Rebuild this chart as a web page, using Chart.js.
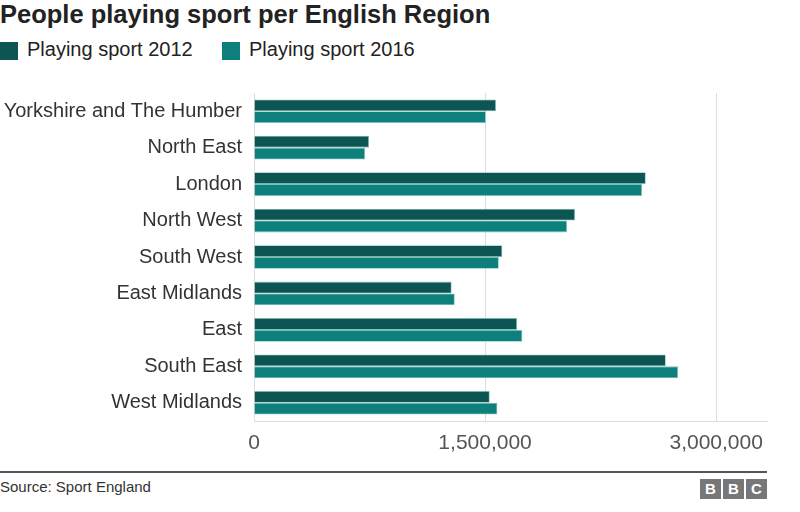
<!DOCTYPE html>
<html>
<head>
<meta charset="utf-8">
<script src="https://cdn.jsdelivr.net/npm/chart.js@4"></script>
<style>
  html, body { margin: 0; padding: 0; background: #fff; width: 800px; height: 512px; overflow: hidden; font-family: "Liberation Sans", Arial, sans-serif; }
  #title { position: absolute; left: 0; top: 0px; font-size: 25.5px; font-weight: bold; color: #222; white-space: nowrap; }
  #legend { position: absolute; left: 0; top: 38px; font-size: 20px; color: #222; white-space: nowrap; }
  .lg { position: absolute; top: 0; white-space: nowrap; }
  .sw { position: absolute; top: 4px; width: 18px; height: 18px; }
  #wrap { position: absolute; left: 0; top: 69px; width: 800px; height: 392px; }
  #rule { position: absolute; left: 0; top: 471px; width: 767px; height: 2px; background: #555; }
  #source { position: absolute; left: 0; top: 478px; font-size: 15px; color: #333; }
  #bbc { position: absolute; left: 700px; top: 479px; display: flex; gap: 2px; }
  #bbc span { display: block; width: 21px; height: 20px; background: #777; color: #fff; font-size: 15px; font-weight: bold; text-align: center; line-height: 20px; }
</style>
</head>
<body>
<div id="title">People playing sport per English Region</div>
<div id="legend">
  <div class="sw" style="left:0;background:#0d5552"></div>
  <div class="lg" style="left:27px">Playing sport 2012</div>
  <div class="sw" style="left:222px;background:#0e807c"></div>
  <div class="lg" style="left:249px">Playing sport 2016</div>
</div>
<div id="wrap"><canvas id="c" width="800" height="392"></canvas></div>
<div id="rule"></div>
<div id="source">Source: Sport England</div>
<div id="bbc"><span>B</span><span>B</span><span>C</span></div>
<script>
const regions = ["Yorkshire and The Humber", "North East", "London", "North West", "South West", "East Midlands", "East", "South East", "West Midlands"];
const sport2012 = [1571000, 747000, 2543000, 2084000, 1612000, 1283000, 1708000, 2673000, 1530000];
const sport2016 = [1505000, 721000, 2519000, 2032000, 1589000, 1303000, 1742000, 2753000, 1580000];
const xTicks = [0, 1500000, 3000000];
const seriesNames = ["Playing sport 2012", "Playing sport 2016"];

new Chart(document.getElementById("c"), {
  type: "bar",
  data: {
    labels: regions,
    datasets: [
      { label: seriesNames[0], data: sport2012, backgroundColor: "#0d5552", borderColor: "#7cc3bf", borderWidth: 0.8, borderSkipped: "left", barPercentage: 1.0, categoryPercentage: 0.65 },
      { label: seriesNames[1], data: sport2016, backgroundColor: "#0e807c", borderColor: "#7cc3bf", borderWidth: 0.8, borderSkipped: "left", barPercentage: 1.0, categoryPercentage: 0.65 }
    ]
  },
  options: {
    indexAxis: "y",
    responsive: false,
    animation: false,
    layout: { padding: { top: 0, right: 33, left: 0, bottom: 0 } },
    plugins: { legend: { display: false }, title: { display: false }, tooltip: { enabled: false } },
    scales: {
      x: {
        min: 0,
        max: 3330000,
        afterBuildTicks: (s) => { s.ticks = xTicks.map(v => ({ value: v })); },
        afterFit: (s) => { s.height = 40; },
        grid: { color: "#dddddd", lineWidth: 1, drawTicks: false },
        border: { display: true, color: "#dddddd" },
        ticks: {
          padding: 10,
          color: "#555",
          font: { family: "'Liberation Sans', Arial, sans-serif", size: 21 },
          maxRotation: 0,
          callback: (v) => Number(v).toLocaleString("en-GB")
        }
      },
      y: {
        afterFit: (s) => { s.width = 254; },
        grid: { display: false, drawTicks: false },
        border: { display: false },
        ticks: {
          padding: 12,
          color: "#333",
          font: { family: "'Liberation Sans', Arial, sans-serif", size: 20 }
        }
      }
    }
  }
});
</script>
</body>
</html>
